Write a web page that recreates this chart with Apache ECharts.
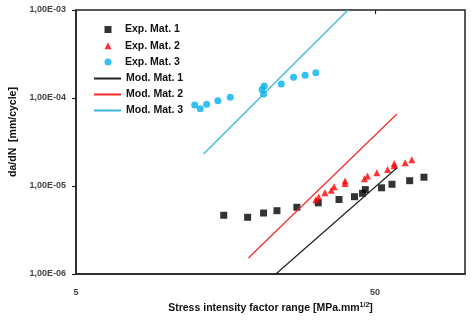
<!DOCTYPE html>
<html>
<head>
<meta charset="utf-8">
<script src="https://cdn.jsdelivr.net/npm/echarts@6/dist/echarts.min.js"></script>
<style>
  html, body { margin: 0; padding: 0; background: #fff; }
  #chart { width: 474px; height: 321px; }
</style>
</head>
<body>
<div id="chart"></div>
<script>
// Fatigue crack growth rate da/dN versus stress intensity factor range (log-log)

// Experimental points: [deltaK, da/dN]
const expMat1 = [
  [15.6, 4.65e-6], [18.75, 4.41e-6], [21.2, 4.93e-6], [23.5, 5.24e-6],
  [27.4, 5.73e-6], [32.3, 6.44e-6], [37.9, 7.02e-6], [42.7, 7.56e-6],
  [45.4, 8.26e-6], [46.4, 9.10e-6], [52.6, 9.54e-6], [57.0, 1.046e-5],
  [65.3, 1.149e-5], [72.9, 1.259e-5]
];
const expMat2 = [
  [31.7, 6.99e-6], [32.4, 7.50e-6], [34.0, 8.39e-6], [35.7, 8.94e-6],
  [36.5, 9.79e-6], [39.7, 1.068e-5], [39.7, 1.14e-5], [46.1, 1.207e-5],
  [47.2, 1.299e-5], [50.7, 1.416e-5], [55.1, 1.54e-5], [58.0, 1.70e-5],
  [58.0, 1.80e-5], [63.1, 1.84e-5], [66.4, 1.985e-5]
];
const expMat3 = [
  [12.47, 8.32e-5], [13.02, 7.56e-5], [13.67, 8.48e-5], [14.91, 9.32e-5],
  [16.4, 1.019e-4], [21.3, 1.369e-4], [20.96, 1.249e-4], [21.2, 1.11e-4],
  [24.3, 1.443e-4], [26.7, 1.719e-4], [29.2, 1.811e-4], [31.7, 1.939e-4]
];

// Model (Paris law) lines: start and end points
const modMat1 = [[23.3, 1.0e-6], [59.4, 1.62e-5]];
const modMat2 = [[18.86, 1.52e-6], [59.2, 6.58e-5]];
const modMat3 = [[13.35, 2.31e-5], [40.6, 1.0e-3]];

// Axis tick positions
const xTicks = [5, 50];
const yTicks = [1e-6, 1e-5, 1e-4, 1e-3];

const expNames = ['Exp. Mat. 1', 'Exp. Mat. 2', 'Exp. Mat. 3'];
const modNames = ['Mod. Mat. 1', 'Mod. Mat. 2', 'Mod. Mat. 3'];
const expSymbols = ['rect', 'triangle', 'circle'];
const expColors = ['#000000', '#ff0000', '#00b0f0'];
const modColors = ['#222222', '#ee2a2a', '#3cb4d8'];

const labelFont = 'Liberation Sans, Arial, sans-serif';

function sciLabel(v) {
  const e = Math.round(Math.log10(v));
  const m = v / Math.pow(10, e);
  const sign = e < 0 ? '-' : '+';
  const ex = String(Math.abs(e)).padStart(2, '0');
  return m.toFixed(2).replace('.', ',') + 'E' + sign + ex;
}

const legendText = { fontFamily: labelFont, fontWeight: 'bold', fontSize: 10.5, color: '#111' };

const chart = echarts.init(document.getElementById('chart'), null, { renderer: 'canvas' });

chart.setOption({
  animation: false,
  backgroundColor: '#fff',
  grid: {
    left: 76, right: 9, top: 10, bottom: 47,
    show: true, borderColor: '#222', borderWidth: 1.5, backgroundColor: 'transparent'
  },
  legend: [{
    // markers of the measured series
    orient: 'vertical',
    left: 104.5, top: 24, padding: 0,
    itemWidth: 7, itemHeight: 7, itemGap: 5.2,
    textStyle: Object.assign({ padding: [0, 0, 0, 8.5] }, legendText),
    data: expNames.map((n, i) => ({ name: n, icon: expSymbols[i] }))
  }, {
    // strokes of the model lines
    orient: 'vertical',
    left: 94, top: 73, padding: 0,
    itemWidth: 27, itemHeight: 2, itemGap: 5.0,
    textStyle: Object.assign({ padding: [0, 0, 0, 0] }, legendText),
    data: modNames.map(n => ({ name: n, icon: 'rect' }))
  }],
  xAxis: [{
    type: 'log', logBase: 10, min: 5, max: 100,
    axisLine: { show: true, lineStyle: { color: '#222', width: 1.5 } },
    axisTick: { show: false },
    splitLine: { show: false },
    minorTick: { show: false },
    axisLabel: {
      customValues: xTicks, margin: 14,
      fontFamily: labelFont, fontWeight: 'bold', fontSize: 9, color: '#444',
      formatter: v => String(v)
    },
    name: 'Stress intensity factor range [MPa.mm{sup|1/2}]',
    nameLocation: 'middle', nameGap: 27,
    nameTextStyle: {
      fontFamily: labelFont, fontWeight: 'bold', fontSize: 10.5, color: '#111',
      rich: { sup: { fontFamily: labelFont, fontWeight: 'bold', fontSize: 7, color: '#111', verticalAlign: 'top', padding: [0, 0, 6, 0] } }
    }
  }, {
    type: 'log', logBase: 10, min: 5, max: 100, position: 'top',
    axisLine: { show: false },
    axisTick: { show: true, inside: true, length: 4, customValues: [50], lineStyle: { color: '#222', width: 1.2 } },
    axisLabel: { show: false },
    splitLine: { show: false }
  }],
  yAxis: {
    type: 'log', logBase: 10, min: 1e-6, max: 1e-3,
    axisLine: { show: true, lineStyle: { color: '#222', width: 1.5 } },
    axisTick: { show: true, inside: false, length: 4, customValues: yTicks, lineStyle: { color: '#222', width: 1.2 } },
    splitLine: { show: false },
    axisLabel: {
      customValues: yTicks, margin: 10,
      fontFamily: labelFont, fontWeight: 'bold', fontSize: 9, color: '#444',
      formatter: v => sciLabel(v)
    }
  },
  graphic: [{
    type: 'text',
    x: 13, y: 132, rotation: Math.PI / 2,
    style: {
      text: 'da/dN  [mm/cycle]',
      fontFamily: labelFont, fontWeight: 'bold', fontSize: 10.5, fill: '#111',
      align: 'center', verticalAlign: 'middle'
    }
  }],
  series: [
    { name: expNames[0], type: 'scatter', data: expMat1, symbol: expSymbols[0], symbolSize: 7,
      itemStyle: { color: expColors[0] } },
    { name: expNames[1], type: 'scatter', data: expMat2, symbol: expSymbols[1], symbolSize: 7,
      itemStyle: { color: expColors[1] } },
    { name: expNames[2], type: 'scatter', data: expMat3, symbol: expSymbols[2], symbolSize: 7,
      itemStyle: { color: expColors[2] } },
    { name: modNames[0], type: 'line', data: modMat1, symbol: 'none', clip: true,
      lineStyle: { color: modColors[0], width: 1.2 }, itemStyle: { color: modColors[0] } },
    { name: modNames[1], type: 'line', data: modMat2, symbol: 'none', clip: true,
      lineStyle: { color: modColors[1], width: 1.2 }, itemStyle: { color: modColors[1] } },
    { name: modNames[2], type: 'line', data: modMat3, symbol: 'none', clip: true,
      lineStyle: { color: modColors[2], width: 1.2 }, itemStyle: { color: modColors[2] } }
  ]
});
</script>
</body>
</html>
